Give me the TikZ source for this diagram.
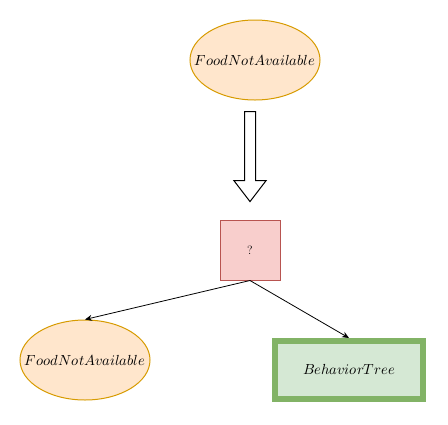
\documentclass[tikz,border=0pt]{standalone}
\usepackage{unicode-math}
\setmathfont{Latin Modern Math}
\definecolor{condfill}{HTML}{FFE6CC}
\definecolor{conddraw}{HTML}{D79B00}
\definecolor{selfill}{HTML}{F8CECC}
\definecolor{seldraw}{HTML}{B85450}
\definecolor{treefill}{HTML}{D5E8D4}
\definecolor{treedraw}{HTML}{82B366}
\usetikzlibrary{shapes.geometric,shapes.arrows,arrows.meta}

\begin{document}
\begin{tikzpicture}[x=1pt,y=-1pt,
  every node/.style={font=\fontsize{14.6}{17}\selectfont,inner sep=0pt},
  every label/.style={font=\fontsize{14.6}{17}\selectfont,inner sep=0pt},
  condnode/.style={draw=conddraw,fill=condfill,ellipse,line width=1pt,
    minimum width=130,minimum height=80,label={center:#1}},
  selnode/.style={draw=seldraw,fill=selfill,line width=1pt,
    minimum width=60,minimum height=60,font=\fontsize{12}{14}\selectfont},
  treenode/.style={draw=treedraw,fill=treefill,line width=6pt,
    minimum width=148,minimum height=58},
  bigarrow/.style={draw,fill=white,single arrow,shape border rotate=270,
    line width=1pt,inner sep=5pt,minimum height=90,
    single arrow head extend=10.5,single arrow tip angle=75},
  edge/.style={line width=0.8pt,-{Stealth[length=7pt,width=6pt]}}
]
\useasboundingbox (0,0) rectangle (448,424);

% Condition
\node[condnode=$FoodNotAvailable$] (cond) at (255,60) {};
\node[bigarrow] (step) at (250,153) {};

% Selector
\node[selnode] (sel) at (250,250) {?};

% Children
\node[condnode=$FoodNotAvailable$] (cond2) at (85,360) {};
\node[treenode] (bt) at (349,370) {$BehaviorTree$};

% Edges
\draw[edge] (sel.south) -- (cond2.north);
\draw[edge] (sel.south) -- (bt.north);
\end{tikzpicture}
\end{document}
